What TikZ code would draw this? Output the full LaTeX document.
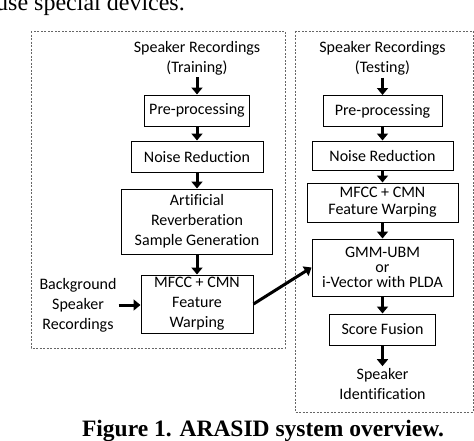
\documentclass[tikz,border=0pt]{standalone}
\usepackage{fontspec}
\setmainfont{Carlito}[Ligatures={NoCommon,NoContextual}]
\newfontfamily\capfont{Liberation Serif}
\usetikzlibrary{arrows.meta,positioning}

\begin{document}
\begin{tikzpicture}[x=1pt, y=-1pt,
    blk/.style={draw=black, line width=1pt, minimum height=31pt, align=center, inner sep=2pt, font=\fontsize{16}{20}\selectfont},
    lbl/.style={align=center, inner sep=2pt, font=\fontsize{16}{20}\selectfont},
    flow/.style={line width=3pt, -{Triangle[length=7pt,width=11pt]}},
    grp/.style={draw=black!60, line width=0.9pt, dash pattern=on 2pt off 1.5pt}]
    \clip (0,0) rectangle (474,440);
    % text of the page above
    \node[font=\capfont\fontsize{24}{24}\selectfont, anchor=base east, inner sep=0pt] (prev) at (185,10) {use special devices.};
    % group frames
    \draw[grp] (31,31) rectangle (285,348);
    \draw[grp] (295,31) rectangle (473,412);
    % training side
    \node[lbl] (trn) at (197,58) {Speaker Recordings\\(Training)};
    \node[blk, minimum width=105pt] (pre1) at (197,110.5) {Pre-processing};
    \node[blk, minimum width=132pt] (nr1) at (197,156.5) {Noise Reduction};
    \node[blk, minimum width=151pt, minimum height=65pt] (rev) at (197,221.5) {Artificial\\Reverberation\\Sample Generation};
    \node[blk, minimum width=112pt, minimum height=58pt] (mfcc1) at (197,304) {MFCC + CMN\\Feature\\Warping};
    \node[lbl] (bg) at (78,305) {Background\\Speaker\\Recordings};
    % testing side
    \node[lbl] (tst) at (382.5,58.5) {Speaker Recordings\\(Testing)};
    \node[blk, minimum width=119pt] (pre2) at (382.5,111) {Pre-processing};
    \node[blk, minimum width=141pt, minimum height=29pt] (nr2) at (382.5,155.5) {Noise Reduction};
    \node[blk, minimum width=151pt, minimum height=39pt, font=\fontsize{16}{17}\selectfont] (mfcc2) at (382.5,202.5) {MFCC + CMN\\Feature Warping};
    \node[blk, minimum width=141pt, minimum height=57pt, font=\fontsize{16}{15}\selectfont] (gmm) at (382.5,267.5) {GMM-UBM\\or\\i-Vector with PLDA};
    \node[blk, minimum width=106pt] (fus) at (382.5,329.5) {Score Fusion};
    \node[lbl] (sid) at (382.5,384) {Speaker\\Identification};
    % arrows
    \draw[flow] (trn) -- (pre1);
    \draw[flow] (pre1) -- (nr1);
    \draw[flow] (nr1) -- (rev);
    \draw[flow] (rev) -- (mfcc1);
    \draw[flow] (bg.east) -- (bg.east -| mfcc1.west);
    \draw[flow] (mfcc1.east) -- (gmm.west);
    \draw[flow] (tst) -- (pre2);
    \draw[flow] (pre2) -- (nr2);
    \draw[flow] (nr2) -- (mfcc2);
    \draw[flow] (mfcc2) -- (gmm);
    \draw[flow] (gmm) -- (fus);
    \draw[flow] (fus) -- (sid);
    % caption
    \node[font=\capfont\bfseries\fontsize{23.5}{23.5}\selectfont, anchor=base] (cap) at (263,436) {Figure 1. ARASID system overview.};
\end{tikzpicture}
\end{document}
